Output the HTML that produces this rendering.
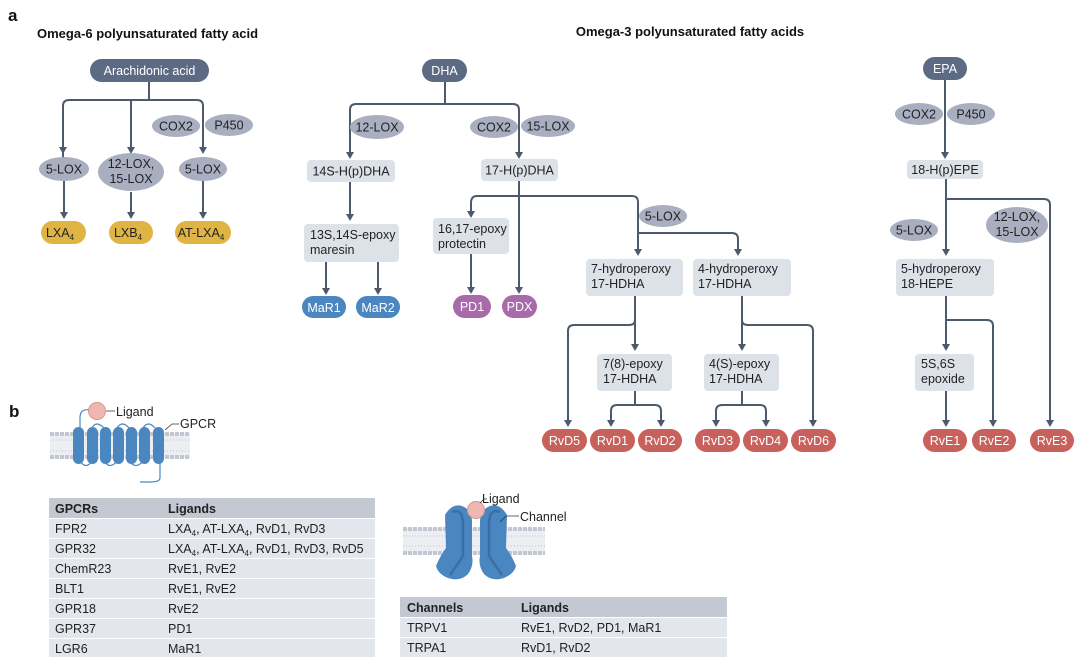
<!DOCTYPE html>
<html><head><meta charset="utf-8"><style>
html,body{margin:0;padding:0;background:#fff}
svg{display:block;font-family:"Liberation Sans",Arial,sans-serif}
.t{font-size:12.5px;fill:#222}
.w{font-size:12.5px;fill:#fff}
.l{stroke:#4d5a6e;stroke-width:2;fill:none}
.a{stroke:#4d5a6e;stroke-width:2;fill:none;marker-end:url(#ar)}
.bx{fill:#dde1e8}
.el{fill:#a9afc0}
.dk{fill:#5c6a83}
.y{fill:#e0b443}
.bl{fill:#4a87c0}
.pu{fill:#a86aab}
.rd{fill:#c8605b}
.tb{font-size:12.5px;fill:#222}
</style></head><body>
<svg width="1080" height="664" viewBox="0 0 1080 664" xmlns="http://www.w3.org/2000/svg">
<defs><marker id="ar" markerWidth="8" markerHeight="8" refX="5" refY="4" orient="auto" markerUnits="userSpaceOnUse"><path d="M0,0 L7,4 L0,8 z" fill="#4d5a6e"/></marker></defs>

<text x="8" y="21" font-size="17" font-weight="bold" fill="#111">a</text>
<text x="37" y="38" font-size="13" font-weight="bold" fill="#111">Omega-6 polyunsaturated fatty acid</text>
<text x="690" y="36" font-size="13" font-weight="bold" fill="#111" text-anchor="middle">Omega-3 polyunsaturated fatty acids</text>

<!-- Arachidonic -->
<path class="l" d="M149,82 V100 M63,158 V106 Q63,100 69,100 H197 Q203,100 203,106"/>
<path class="a" d="M63,106 V152"/><path class="a" d="M131,100 V152"/><path class="a" d="M203,106 V152"/>
<rect class="dk" x="90" y="59" width="119" height="23" rx="11.5"/>
<text class="w" x="149.5" y="75" text-anchor="middle" font-size="13">Arachidonic acid</text>
<ellipse class="el" cx="176" cy="126" rx="24" ry="11"/><text class="t" x="176" y="130.5" text-anchor="middle">COX2</text>
<ellipse class="el" cx="229" cy="125" rx="24" ry="11"/><text class="t" x="229" y="129.5" text-anchor="middle">P450</text>
<path class="a" d="M64,180 V217"/><path class="a" d="M131,192 V217"/><path class="a" d="M203,180 V217"/>
<ellipse class="el" cx="64" cy="169" rx="25" ry="12"/><text class="t" x="64" y="173.5" text-anchor="middle">5-LOX</text>
<ellipse class="el" cx="131" cy="172" rx="33" ry="19"/><text class="t" x="131" y="168" text-anchor="middle">12-LOX,</text><text class="t" x="131" y="183" text-anchor="middle">15-LOX</text>
<ellipse class="el" cx="203" cy="169" rx="24" ry="12"/><text class="t" x="203" y="173.5" text-anchor="middle">5-LOX</text>
<rect class="y" x="41" y="221" width="45" height="23" rx="11.5"/><text class="t" x="60" y="237" text-anchor="middle">LXA<tspan font-size="8" dy="3">4</tspan></text>
<rect class="y" x="109" y="221" width="44" height="23" rx="11.5"/><text class="t" x="128" y="237" text-anchor="middle">LXB<tspan font-size="8" dy="3">4</tspan></text>
<rect class="y" x="175" y="221" width="56" height="23" rx="11.5"/><text class="t" x="201" y="237" text-anchor="middle">AT-LXA<tspan font-size="8" dy="3">4</tspan></text>

<!-- DHA -->
<path class="l" d="M445,82 V104 M350,110 Q350,104 356,104 H513 Q519,104 519,110"/>
<path class="a" d="M350,110 V157"/><path class="a" d="M519,110 V157"/>
<rect class="dk" x="422" y="59" width="45" height="23" rx="11.5"/><text class="w" x="444.5" y="75" text-anchor="middle" font-size="13">DHA</text>
<ellipse class="el" cx="377" cy="127" rx="27" ry="12"/><text class="t" x="377" y="131.5" text-anchor="middle">12-LOX</text>
<ellipse class="el" cx="494" cy="127" rx="24" ry="11"/><text class="t" x="494" y="131.5" text-anchor="middle">COX2</text>
<ellipse class="el" cx="548" cy="126" rx="27" ry="11"/><text class="t" x="548" y="130.5" text-anchor="middle">15-LOX</text>
<rect class="bx" x="307" y="160" width="88" height="22" rx="4"/><text class="t" x="351" y="175.5" text-anchor="middle">14S-H(p)DHA</text>
<path class="a" d="M350,182 V219"/>
<rect class="bx" x="304" y="224" width="95" height="38" rx="4"/><text class="t" x="310" y="239">13S,14S-epoxy</text><text class="t" x="310" y="254">maresin</text>
<path class="a" d="M326,262 V293"/><path class="a" d="M378,262 V293"/>
<rect class="bl" x="302" y="296" width="44" height="22" rx="11"/><text class="w" x="324" y="312" text-anchor="middle">MaR1</text>
<rect class="bl" x="356" y="296" width="44" height="22" rx="11"/><text class="w" x="378" y="312" text-anchor="middle">MaR2</text>

<rect class="bx" x="481" y="159" width="77" height="22" rx="4"/><text class="t" x="519.5" y="174.5" text-anchor="middle">17-H(p)DHA</text>
<path class="l" d="M519,181 V196 M471,203 Q471,196 477,196 H632 Q638,196 638,202"/>
<path class="a" d="M471,203 V216"/><path class="a" d="M519,196 V292"/>
<rect class="bx" x="433" y="218" width="76" height="36" rx="4"/><text class="t" x="438" y="233">16,17-epoxy</text><text class="t" x="438" y="248">protectin</text>
<path class="a" d="M471,254 V292"/>
<rect class="pu" x="453" y="295" width="38" height="23" rx="11.5"/><text class="w" x="472" y="311" text-anchor="middle">PD1</text>
<rect class="pu" x="502" y="295" width="35" height="23" rx="11.5"/><text class="w" x="519.5" y="311" text-anchor="middle">PDX</text>
<path class="l" d="M638,202 V233 H732 Q738,233 738,239"/>
<path class="a" d="M638,230 V254"/><path class="a" d="M738,239 V254"/>
<ellipse class="el" cx="663" cy="216" rx="24" ry="11"/><text class="t" x="663" y="220.5" text-anchor="middle">5-LOX</text>
<rect class="bx" x="586" y="259" width="97" height="37" rx="4"/><text class="t" x="591" y="273">7-hydroperoxy</text><text class="t" x="591" y="288">17-HDHA</text>
<rect class="bx" x="693" y="259" width="98" height="37" rx="4"/><text class="t" x="698" y="273">4-hydroperoxy</text><text class="t" x="698" y="288">17-HDHA</text>
<path class="l" d="M635,296 V320 Q635,325 629,325 H574 Q568,325 568,331"/>
<path class="a" d="M568,331 V425"/><path class="a" d="M635,320 V349"/>
<rect class="bx" x="597" y="354" width="75" height="37" rx="4"/><text class="t" x="603" y="368">7(8)-epoxy</text><text class="t" x="603" y="383">17-HDHA</text>
<path class="l" d="M635,391 V405 M611,411 Q611,405 617,405 H655 Q661,405 661,411"/>
<path class="a" d="M611,411 V425"/><path class="a" d="M661,411 V425"/>
<path class="l" d="M742,296 V320 Q742,325 748,325 H807 Q813,325 813,331"/>
<path class="a" d="M813,331 V425"/><path class="a" d="M742,320 V349"/>
<rect class="bx" x="704" y="354" width="75" height="37" rx="4"/><text class="t" x="709" y="368">4(S)-epoxy</text><text class="t" x="709" y="383">17-HDHA</text>
<path class="l" d="M742,391 V405 M716,411 Q716,405 722,405 H760 Q766,405 766,411"/>
<path class="a" d="M716,411 V425"/><path class="a" d="M766,411 V425"/>
<g>
<rect class="rd" x="542" y="429" width="45" height="23" rx="11.5"/><text class="w" x="564.5" y="445" text-anchor="middle">RvD5</text>
<rect class="rd" x="590" y="429" width="45" height="23" rx="11.5"/><text class="w" x="612.5" y="445" text-anchor="middle">RvD1</text>
<rect class="rd" x="638" y="429" width="44" height="23" rx="11.5"/><text class="w" x="660" y="445" text-anchor="middle">RvD2</text>
<rect class="rd" x="695" y="429" width="45" height="23" rx="11.5"/><text class="w" x="717.5" y="445" text-anchor="middle">RvD3</text>
<rect class="rd" x="743" y="429" width="45" height="23" rx="11.5"/><text class="w" x="765.5" y="445" text-anchor="middle">RvD4</text>
<rect class="rd" x="791" y="429" width="45" height="23" rx="11.5"/><text class="w" x="813.5" y="445" text-anchor="middle">RvD6</text>
</g>

<!-- EPA -->
<path class="a" d="M945,80 V157"/>
<rect class="dk" x="923" y="57" width="44" height="23" rx="11.5"/><text class="w" x="945" y="73" text-anchor="middle" font-size="13">EPA</text>
<ellipse class="el" cx="919" cy="114" rx="24" ry="11"/><text class="t" x="919" y="118.5" text-anchor="middle">COX2</text>
<ellipse class="el" cx="971" cy="114" rx="24" ry="11"/><text class="t" x="971" y="118.5" text-anchor="middle">P450</text>
<rect class="bx" x="907" y="160" width="76" height="19" rx="4"/><text class="t" x="945" y="174" text-anchor="middle">18-H(p)EPE</text>
<path class="l" d="M946,179 V199 H1044 Q1050,199 1050,205"/>
<path class="a" d="M1050,205 V425"/><path class="a" d="M946,199 V254"/>
<ellipse class="el" cx="914" cy="230" rx="24" ry="11"/><text class="t" x="914" y="234.5" text-anchor="middle">5-LOX</text>
<ellipse class="el" cx="1017" cy="225" rx="31" ry="18"/><text class="t" x="1017" y="221" text-anchor="middle">12-LOX,</text><text class="t" x="1017" y="236" text-anchor="middle">15-LOX</text>
<rect class="bx" x="896" y="259" width="98" height="37" rx="4"/><text class="t" x="901" y="273">5-hydroperoxy</text><text class="t" x="901" y="288">18-HEPE</text>
<path class="l" d="M946,296 V320 H987 Q993,320 993,326"/>
<path class="a" d="M993,326 V425"/><path class="a" d="M946,320 V349"/>
<rect class="bx" x="915" y="354" width="59" height="37" rx="4"/><text class="t" x="921" y="368">5S,6S</text><text class="t" x="921" y="383">epoxide</text>
<path class="a" d="M946,391 V425"/>
<rect class="rd" x="923" y="429" width="44" height="23" rx="11.5"/><text class="w" x="945" y="445" text-anchor="middle">RvE1</text>
<rect class="rd" x="972" y="429" width="44" height="23" rx="11.5"/><text class="w" x="994" y="445" text-anchor="middle">RvE2</text>
<rect class="rd" x="1030" y="429" width="44" height="23" rx="11.5"/><text class="w" x="1052" y="445" text-anchor="middle">RvE3</text>

<!-- b -->
<text x="9" y="417" font-size="17" font-weight="bold" fill="#111">b</text>
<rect x="50" y="433" width="140" height="25" fill="#eceef2"/>
<g stroke="#c2c7d2" stroke-width="1">
<path d="M50,434 H190 M50,457 H190" stroke-width="4" stroke-dasharray="4,1"/>
<path d="M50,440 H190 M50,451 H190" stroke-dasharray="1,2"/>
</g>
<path d="M80,428 V418 Q80,408 90,410 M92,428 Q96,420 104,428 M117,428 Q122,420 129,428 M143,428 Q148,420 155,428 M104,461 Q110,470 117,461 M129,461 Q136,470 143,461 M80,461 Q86,470 92,461 M160,461 V478 Q160,482 150,482 H140" stroke="#4a87c0" stroke-width="1.2" fill="none"/>
<g fill="#4a87c0">
<rect x="73" y="427" width="11" height="37" rx="5.5"/><rect x="87" y="427" width="11" height="37" rx="5.5"/>
<rect x="100" y="427" width="11" height="37" rx="5.5"/><rect x="113" y="427" width="11" height="37" rx="5.5"/>
<rect x="126" y="427" width="11" height="37" rx="5.5"/><rect x="139" y="427" width="11" height="37" rx="5.5"/>
<rect x="153" y="427" width="11" height="37" rx="5.5"/>
</g>
<circle cx="97" cy="411" r="8.5" fill="#eeb7b1" stroke="#d79891"/>
<path d="M106,411 H115 M165,430 L172,424 H179" stroke="#333" stroke-width="0.8" fill="none"/>
<text class="t" x="116" y="416">Ligand</text><text class="t" x="180" y="428">GPCR</text>

<!-- GPCR table -->
<rect x="49" y="498" width="326" height="20" fill="#c3c8d3"/>
<g fill="#e3e6ec">
<rect x="49" y="519" width="326" height="19"/><rect x="49" y="539" width="326" height="19"/>
<rect x="49" y="559" width="326" height="19"/><rect x="49" y="579" width="326" height="19"/>
<rect x="49" y="599" width="326" height="19"/><rect x="49" y="619" width="326" height="19"/>
<rect x="49" y="639" width="326" height="18"/>
</g>
<text class="tb" x="55" y="513" font-weight="bold">GPCRs</text><text class="tb" x="168" y="513" font-weight="bold">Ligands</text>
<text class="tb" x="55" y="533">FPR2</text><text class="tb" x="168" y="533">LXA<tspan font-size="8" dy="3">4</tspan><tspan dy="-3">, AT-LXA</tspan><tspan font-size="8" dy="3">4</tspan><tspan dy="-3">, RvD1, RvD3</tspan></text>
<text class="tb" x="55" y="553">GPR32</text><text class="tb" x="168" y="553">LXA<tspan font-size="8" dy="3">4</tspan><tspan dy="-3">, AT-LXA</tspan><tspan font-size="8" dy="3">4</tspan><tspan dy="-3">, RvD1, RvD3, RvD5</tspan></text>
<text class="tb" x="55" y="573">ChemR23</text><text class="tb" x="168" y="573">RvE1, RvE2</text>
<text class="tb" x="55" y="593">BLT1</text><text class="tb" x="168" y="593">RvE1, RvE2</text>
<text class="tb" x="55" y="613">GPR18</text><text class="tb" x="168" y="613">RvE2</text>
<text class="tb" x="55" y="633">GPR37</text><text class="tb" x="168" y="633">PD1</text>
<text class="tb" x="55" y="653">LGR6</text><text class="tb" x="168" y="653">MaR1</text>

<!-- Channel icon -->
<rect x="403" y="528" width="142" height="26" fill="#eceef2"/>
<g stroke="#c2c7d2" stroke-width="1">
<path d="M403,529 H545 M403,553 H545" stroke-width="4" stroke-dasharray="4,1"/>
<path d="M403,536 H545 M403,546 H545" stroke-dasharray="1,2"/>
</g>
<path d="M445,515 Q452,503 462,506 Q472,510 472,522 L472,556 Q474,566 468,574 Q460,582 448,578 Q438,574 436,566 Q440,556 446,548 Z" fill="#4a87c0"/>
<path d="M452,512 Q462,508 463,522 L463,556 L450,575" stroke="#3a6fa5" stroke-width="2.5" fill="none"/>
<path d="M507,515 Q500,503 490,506 Q480,510 480,522 L480,556 Q478,566 484,574 Q492,582 504,578 Q514,574 516,566 Q512,556 506,548 Z" fill="#4a87c0"/>
<path d="M500,512 Q490,508 489,522 L489,556 L502,575" stroke="#3a6fa5" stroke-width="2.5" fill="none"/>
<circle cx="476" cy="510" r="8.5" fill="#eeb7b1" stroke="#d79891"/>
<path d="M480,503 L484,499 H487 M500,522 L506,516 H519" stroke="#333" stroke-width="0.8" fill="none"/>
<text class="t" x="482" y="503">Ligand</text><text class="t" x="520" y="521">Channel</text>

<!-- Channel table -->
<rect x="400" y="597" width="327" height="20" fill="#c3c8d3"/>
<rect x="400" y="618" width="327" height="19" fill="#e3e6ec"/>
<rect x="400" y="638" width="327" height="19" fill="#e3e6ec"/>
<text class="tb" x="407" y="612" font-weight="bold">Channels</text><text class="tb" x="521" y="612" font-weight="bold">Ligands</text>
<text class="tb" x="407" y="632">TRPV1</text><text class="tb" x="521" y="632">RvE1, RvD2, PD1, MaR1</text>
<text class="tb" x="407" y="652">TRPA1</text><text class="tb" x="521" y="652">RvD1, RvD2</text>
</svg>
</body></html>
